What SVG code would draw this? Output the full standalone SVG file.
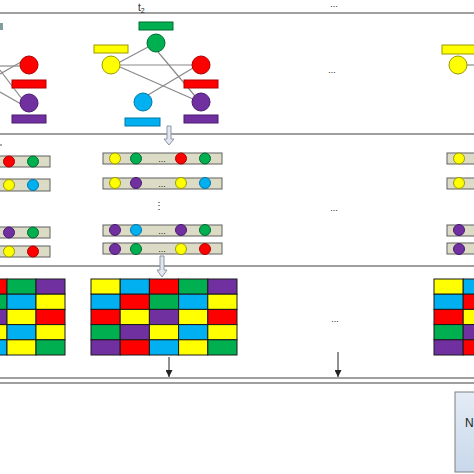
<svg xmlns="http://www.w3.org/2000/svg" width="474" height="474" viewBox="0 0 474 474">
<defs>
<marker id="tri" viewBox="0 0 10 10" refX="10" refY="5" markerWidth="7" markerHeight="7" orient="auto" markerUnits="userSpaceOnUse">
<path d="M0,0 L10,5 L0,10 Z" fill="#222"/>
</marker>
<linearGradient id="boxg" x1="0" y1="0" x2="0" y2="1">
<stop offset="0" stop-color="#e4ecf6"/>
<stop offset="1" stop-color="#c8d8ea"/>
</linearGradient>
</defs>
<style>
.sep{stroke:#7f7f7f;stroke-width:1.5;fill:none}
.edge{stroke:#8a8a8a;stroke-width:1.2;fill:none}
.R{fill:#ff0000;stroke:#b00000}
.G{fill:#00b050;stroke:#006a30}
.Y{fill:#ffff00;stroke:#9a9a00}
.B{fill:#00b0f0;stroke:#0077a8}
.P{fill:#7030a0;stroke:#4a1a70}
.bar{fill:#dcdcc6;stroke:#606060;stroke-width:1}
.cell{stroke:#1a1a1a;stroke-width:1}
.txt{font-family:"Liberation Sans",Arial,sans-serif;fill:#222}
.barrow{fill:#e4e8ee;stroke:#8a96a6;stroke-width:1}
.arr{stroke:#222;stroke-width:1;fill:none}
</style>
<rect width="474" height="474" fill="#ffffff"/>

<g id="separators">
<line class="sep" x1="0" y1="13" x2="474" y2="13"/>
<line class="sep" x1="0" y1="134" x2="474" y2="134"/>
<line class="sep" x1="0" y1="266" x2="474" y2="266"/>
<line class="sep" x1="0" y1="378" x2="474" y2="378"/>
<line class="sep" x1="0" y1="383" x2="474" y2="383" stroke="#a0a0a0"/>
</g>

<g id="labels">
<text class="txt" x="138" y="11" font-size="10">t<tspan font-size="7" dy="2">2</tspan></text>
<text class="txt" x="334" y="7" font-size="9" text-anchor="middle">...</text>
<text class="txt" x="332" y="73" font-size="9" text-anchor="middle">...</text>
<text class="txt" x="159" y="209" font-size="10" text-anchor="middle">⋮</text>
<text class="txt" x="334" y="211" font-size="9" text-anchor="middle">...</text>
<text class="txt" x="335" y="322" font-size="9" text-anchor="middle">...</text>
</g>

<g id="connectors">
<line class="edge" x1="0" y1="66" x2="20" y2="66"/>
<line class="edge" x1="0" y1="74" x2="21" y2="62"/>
<line class="edge" x1="0" y1="70" x2="22" y2="99"/>
<line class="edge" x1="0" y1="92" x2="21" y2="104"/>
<line class="edge" x1="120" y1="62" x2="148" y2="47"/>
<line class="edge" x1="120" y1="65" x2="192" y2="65"/>
<line class="edge" x1="120" y1="67" x2="193" y2="99"/>
<line class="edge" x1="158" y1="52" x2="195" y2="96"/>
<line class="edge" x1="193" y1="68" x2="148" y2="95"/>
<line class="edge" x1="467" y1="65" x2="474" y2="65"/>
<path class="barrow" d="M167,126 L171,126 L171,139 L174,139 L169,145 L164,139 L167,139 Z"/>
<path class="barrow" d="M160,256 L164,256 L164,270 L167,270 L162,277 L157,270 L160,270 Z"/>
<line class="arr" x1="169" y1="357" x2="169" y2="377" marker-end="url(#tri)"/>
<line class="arr" x1="338" y1="352" x2="338" y2="377" marker-end="url(#tri)"/>
</g>

<g id="graph-t1">
<rect x="0" y="23" width="3" height="7" fill="#7f9f9f"/>
<circle class="R" cx="29" cy="65" r="9"/>
<rect class="R" x="12" y="80" width="34" height="8"/>
<circle class="P" cx="29" cy="103" r="9"/>
<rect class="P" x="12" y="115" width="34" height="8"/>
</g>

<g id="graph-t2">
<rect class="G" x="139" y="22" width="34" height="8"/>
<circle class="G" cx="156" cy="43" r="9"/>
<rect class="Y" x="94" y="45" width="34" height="8"/>
<circle class="Y" cx="111" cy="65" r="9"/>
<circle class="R" cx="201" cy="65" r="9"/>
<rect class="R" x="184" y="80" width="34" height="8"/>
<circle class="B" cx="143" cy="102" r="9"/>
<rect class="B" x="125" y="118" width="35" height="8"/>
<circle class="P" cx="201" cy="102" r="9"/>
<rect class="P" x="184" y="115" width="34" height="8"/>
</g>

<g id="graph-tn">
<rect class="Y" x="442" y="45" width="40" height="9"/>
<circle class="Y" cx="458" cy="65" r="9"/>
</g>

<g id="walks-t1">
<rect class="bar" x="-5" y="156" width="55" height="11"/>
<circle class="R" cx="9" cy="161.5" r="5.5"/>
<circle class="G" cx="33" cy="161.5" r="5.5"/>
<rect class="bar" x="-5" y="179" width="55" height="12"/>
<circle class="Y" cx="9" cy="185" r="5.5"/>
<circle class="B" cx="33" cy="185" r="5.5"/>
<rect class="bar" x="-5" y="227" width="55" height="11"/>
<circle class="P" cx="9" cy="232.5" r="5.5"/>
<circle class="G" cx="33" cy="232.5" r="5.5"/>
<rect class="bar" x="-5" y="246" width="55" height="11"/>
<circle class="Y" cx="9" cy="251.5" r="5.5"/>
<circle class="R" cx="33" cy="251.5" r="5.5"/>
<line x1="0" y1="145" x2="2" y2="145" stroke="#555" stroke-width="1"/>
</g>

<g id="walks-t2">
<rect class="bar" x="103" y="153" width="119" height="11"/>
<circle class="Y" cx="115" cy="158.5" r="5.5"/>
<circle class="G" cx="136" cy="158.5" r="5.5"/>
<text class="txt" x="162" y="162" font-size="9" text-anchor="middle">...</text>
<circle class="R" cx="181" cy="158.5" r="5.5"/>
<circle class="G" cx="205" cy="158.5" r="5.5"/>
<rect class="bar" x="103" y="178" width="119" height="11"/>
<circle class="Y" cx="115" cy="183" r="5.5"/>
<circle class="P" cx="136" cy="183" r="5.5"/>
<text class="txt" x="162" y="187" font-size="9" text-anchor="middle">...</text>
<circle class="Y" cx="181" cy="183" r="5.5"/>
<circle class="B" cx="205" cy="183" r="5.5"/>
<rect class="bar" x="103" y="225" width="119" height="11"/>
<circle class="P" cx="115" cy="230" r="5.5"/>
<circle class="B" cx="136" cy="230" r="5.5"/>
<text class="txt" x="162" y="234" font-size="9" text-anchor="middle">...</text>
<circle class="P" cx="181" cy="230" r="5.5"/>
<circle class="G" cx="205" cy="230" r="5.5"/>
<rect class="bar" x="103" y="243" width="119" height="11"/>
<circle class="P" cx="115" cy="249" r="5.5"/>
<circle class="G" cx="136" cy="249" r="5.5"/>
<text class="txt" x="162" y="252" font-size="9" text-anchor="middle">...</text>
<circle class="Y" cx="181" cy="249" r="5.5"/>
<circle class="R" cx="205" cy="249" r="5.5"/>
</g>

<g id="walks-tn">
<rect class="bar" x="447" y="153" width="40" height="11"/>
<circle class="Y" cx="459" cy="158.5" r="5.5"/>
<rect class="bar" x="447" y="178" width="40" height="11"/>
<circle class="Y" cx="459" cy="183" r="5.5"/>
<rect class="bar" x="447" y="225" width="40" height="11"/>
<circle class="P" cx="459" cy="230" r="5.5"/>
<rect class="bar" x="447" y="243" width="40" height="11"/>
<circle class="P" cx="459" cy="249" r="5.5"/>
</g>

<g id="matrix-t1">
<rect class="cell R" x="-23" y="279" width="30" height="15.2"/>
<rect class="cell G" x="7" y="279" width="29" height="15.2"/>
<rect class="cell P" x="36" y="279" width="29" height="15.2"/>
<rect class="cell G" x="-23" y="294.2" width="30" height="15.2"/>
<rect class="cell B" x="7" y="294.2" width="29" height="15.2"/>
<rect class="cell Y" x="36" y="294.2" width="29" height="15.2"/>
<rect class="cell P" x="-23" y="309.4" width="30" height="15.2"/>
<rect class="cell Y" x="7" y="309.4" width="29" height="15.2"/>
<rect class="cell R" x="36" y="309.4" width="29" height="15.2"/>
<rect class="cell Y" x="-23" y="324.6" width="30" height="15.2"/>
<rect class="cell B" x="7" y="324.6" width="29" height="15.2"/>
<rect class="cell Y" x="36" y="324.6" width="29" height="15.2"/>
<rect class="cell B" x="-23" y="339.8" width="30" height="15.2"/>
<rect class="cell Y" x="7" y="339.8" width="29" height="15.2"/>
<rect class="cell G" x="36" y="339.8" width="29" height="15.2"/>
</g>

<g id="matrix-t2">
<rect class="cell Y" x="91" y="279" width="29.2" height="15.2"/>
<rect class="cell B" x="120.2" y="279" width="29.2" height="15.2"/>
<rect class="cell R" x="149.4" y="279" width="29.2" height="15.2"/>
<rect class="cell G" x="178.6" y="279" width="29.2" height="15.2"/>
<rect class="cell P" x="207.8" y="279" width="29.2" height="15.2"/>
<rect class="cell B" x="91" y="294.2" width="29.2" height="15.2"/>
<rect class="cell R" x="120.2" y="294.2" width="29.2" height="15.2"/>
<rect class="cell G" x="149.4" y="294.2" width="29.2" height="15.2"/>
<rect class="cell B" x="178.6" y="294.2" width="29.2" height="15.2"/>
<rect class="cell Y" x="207.8" y="294.2" width="29.2" height="15.2"/>
<rect class="cell R" x="91" y="309.4" width="29.2" height="15.2"/>
<rect class="cell Y" x="120.2" y="309.4" width="29.2" height="15.2"/>
<rect class="cell P" x="149.4" y="309.4" width="29.2" height="15.2"/>
<rect class="cell Y" x="178.6" y="309.4" width="29.2" height="15.2"/>
<rect class="cell R" x="207.8" y="309.4" width="29.2" height="15.2"/>
<rect class="cell G" x="91" y="324.6" width="29.2" height="15.2"/>
<rect class="cell P" x="120.2" y="324.6" width="29.2" height="15.2"/>
<rect class="cell Y" x="149.4" y="324.6" width="29.2" height="15.2"/>
<rect class="cell B" x="178.6" y="324.6" width="29.2" height="15.2"/>
<rect class="cell Y" x="207.8" y="324.6" width="29.2" height="15.2"/>
<rect class="cell P" x="91" y="339.8" width="29.2" height="15.2"/>
<rect class="cell R" x="120.2" y="339.8" width="29.2" height="15.2"/>
<rect class="cell B" x="149.4" y="339.8" width="29.2" height="15.2"/>
<rect class="cell Y" x="178.6" y="339.8" width="29.2" height="15.2"/>
<rect class="cell G" x="207.8" y="339.8" width="29.2" height="15.2"/>
</g>

<g id="matrix-tn">
<rect class="cell Y" x="434" y="279" width="29.2" height="15.2"/>
<rect class="cell B" x="463.2" y="279" width="29.2" height="15.2"/>
<rect class="cell B" x="434" y="294.2" width="29.2" height="15.2"/>
<rect class="cell R" x="463.2" y="294.2" width="29.2" height="15.2"/>
<rect class="cell R" x="434" y="309.4" width="29.2" height="15.2"/>
<rect class="cell Y" x="463.2" y="309.4" width="29.2" height="15.2"/>
<rect class="cell G" x="434" y="324.6" width="29.2" height="15.2"/>
<rect class="cell P" x="463.2" y="324.6" width="29.2" height="15.2"/>
<rect class="cell P" x="434" y="339.8" width="29.2" height="15.2"/>
<rect class="cell R" x="463.2" y="339.8" width="29.2" height="15.2"/>
</g>

<g id="output-box">
<rect x="455" y="392" width="40" height="80" fill="url(#boxg)" stroke="#7f7f7f" stroke-width="1"/>
<text class="txt" x="465" y="427" font-size="12">N</text>
</g>
</svg>
